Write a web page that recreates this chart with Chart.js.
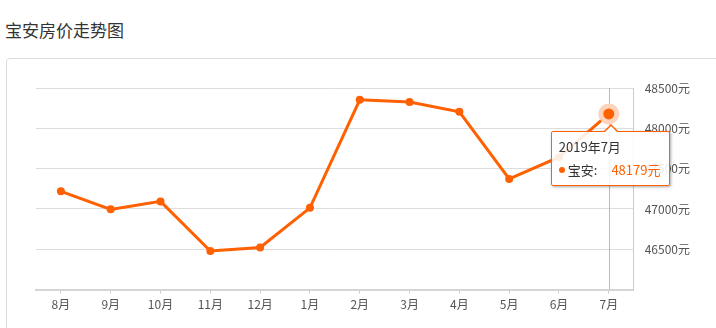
<!DOCTYPE html>
<html>
<head>
<meta charset="utf-8">
<script src="https://cdn.jsdelivr.net/npm/chart.js@4.4.0/dist/chart.umd.min.js"></script>
<style>
body { margin:0; width:716px; height:328px; overflow:hidden; background:#fff; font-family:"Noto Sans CJK SC", sans-serif; position:relative; }
.title { position:absolute; left:5px; top:17px; font-size:17px; color:#333; }
.panel { position:absolute; left:6px; top:58px; width:760px; height:320px; border:1px solid #ddd; border-radius:4px; }
.chart-wrapper { position:absolute; left:0; top:0; width:716px; height:328px; }
#tip { position:absolute; display:none; background:rgba(255,255,255,0.88); border:1px solid #ff6000; border-radius:2px; box-shadow:1px 1px 3px rgba(0,0,0,0.35); padding:6px 9px 7px 7px; font-size:13px; line-height:17px; color:#333; white-space:nowrap; }
#tip:before, #tip:after { content:''; position:absolute; left:50%; width:0; height:0; border-style:solid; }
#tip:before { top:-8px; margin-left:-8px; border-width:0 8px 8px 8px; border-color:transparent transparent #ff6000 transparent; }
#tip:after { top:-6px; margin-left:-7px; border-width:0 7px 7px 7px; border-color:transparent transparent #fff transparent; }
#tip .row { margin-top:6px; }
#tip .dot { display:inline-block; width:6px; height:6px; border-radius:50%; background:#ff6000; margin-right:3px; vertical-align:2px; }
#tip .val { color:#ff6000; margin-left:14px; }
</style>
</head>
<body>
<div class="title">宝安房价走势图</div>
<div class="panel"></div>
<div class="chart-wrapper"><canvas id="price-chart"></canvas></div>
<div id="tip"></div>
<script>
// data
const months = ['8月', '9月', '10月', '11月', '12月', '1月', '2月', '3月', '4月', '5月', '6月', '7月'];
const fullMonths = ['2018年8月', '2018年9月', '2018年10月', '2018年11月', '2018年12月', '2019年1月', '2019年2月', '2019年3月', '2019年4月', '2019年5月', '2019年6月', '2019年7月'];
const prices = [47219, 46995, 47094, 46479, 46522, 47014, 48354, 48326, 48205, 47372, 47642, 48179];
const seriesName = '宝安';
const yTicks = [46000, 46500, 47000, 47500, 48000, 48500];

const orange = '#ff6000';
const tip = document.getElementById('tip');

// tooltip as html
function externalTip(context){
    const model = context.tooltip;
    if(model.opacity === 0){
        tip.style.display = 'none';
        return;
    }
    const i = model.dataPoints[0].dataIndex;
    tip.innerHTML = '<div>' + fullMonths[i] + '</div>' +
        '<div class="row"><span class="dot"></span>' + seriesName + ':<span class="val">' + prices[i] + '元</span></div>';
    tip.style.display = 'block';
    const w = tip.offsetWidth;
    tip.style.left = (model.caretX - w / 2 + 2) + 'px';
    tip.style.top = (model.caretY + 17) + 'px';
}

// vertical line at active point
const crossLine = {
    id: 'crossLine',
    beforeDatasetsDraw(chart){
        const active = chart.getActiveElements();
        if(!active.length) return;
        const x = active[0].element.x;
        const ctx = chart.ctx;
        ctx.save();
        ctx.strokeStyle = '#bbbbbb';
        ctx.lineWidth = 1;
        ctx.beginPath();
        ctx.moveTo(Math.round(x) + 0.5, chart.chartArea.top);
        ctx.lineTo(Math.round(x) + 0.5, chart.chartArea.bottom);
        ctx.stroke();
        ctx.restore();
    }
};

const priceCanvas = document.getElementById('price-chart');

let priceChart = new Chart(priceCanvas, {
    type: 'line',
    data: {
        labels: months,
        datasets: [{
            label: seriesName,
            data: prices,
            borderColor: orange,
            backgroundColor: orange,
            borderWidth: 3,
            pointRadius: 4,
            pointBackgroundColor: orange,
            pointBorderWidth: 0,
            pointHoverRadius: 8,
            pointHoverBorderWidth: 5,
            pointHoverBackgroundColor: orange,
            pointHoverBorderColor: '#fdd3bb',
            tension: 0
        }]
    },
    options: {
        responsive: true,
        maintainAspectRatio: false,
        animation: false,
        events: [],
        layout: {
            padding: { left: 36, top: 88, right: 15, bottom: 12 }
        },
        scales: {
            x: {
                offset: true,
                grid: { display: true, drawOnChartArea: false, tickLength: 4, color: '#cccccc' },
                border: { display: true, color: '#d5d5d5', width: 2 },
                ticks: { color: '#555', font: { size: 12, family: '"Noto Sans CJK SC", sans-serif' }, padding: 4, maxRotation: 0 }
            },
            y: {
                position: 'right',
                min: 46000,
                max: 48500,
                afterBuildTicks(axis){
                    axis.ticks = yTicks.map(v => ({ value: v }));
                },
                grid: { color: '#dddddd', drawTicks: false },
                border: { display: true, color: '#cccccc' },
                ticks: {
                    color: '#555',
                    padding: 11,
                    font: { size: 12, family: '"Noto Sans CJK SC", sans-serif' },
                    callback: (v) => v === 46000 ? '' : v + '元'
                }
            }
        },
        plugins: {
            legend: { display: false },
            tooltip: { enabled: false, external: externalTip }
        }
    },
    plugins: [crossLine]
});

// show the last month as hovered
const last = prices.length - 1;
const activeEl = [{ datasetIndex: 0, index: last }];
priceChart.setActiveElements(activeEl);
const pt = priceChart.getDatasetMeta(0).data[last];
priceChart.tooltip.setActiveElements(activeEl, { x: pt.x, y: pt.y });
priceChart.update();
</script>
</body>
</html>
